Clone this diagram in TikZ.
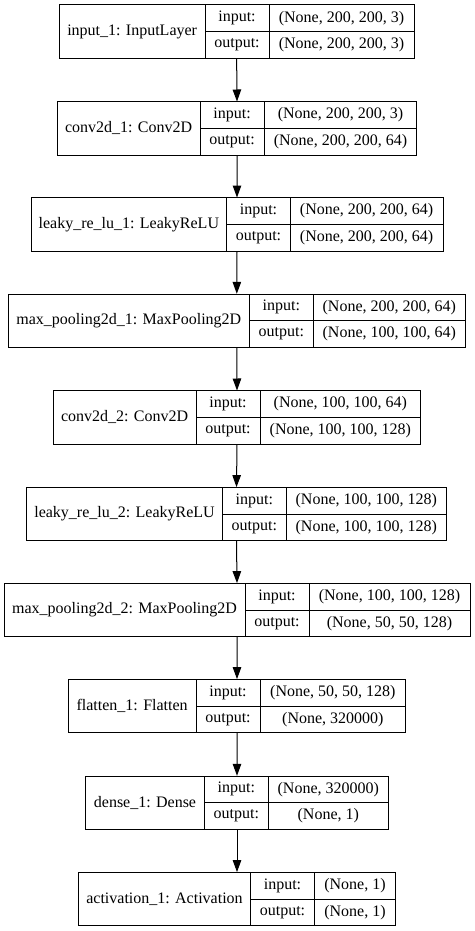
\documentclass[tikz,border=0pt]{standalone}
\usepackage{fontspec}
\setmainfont{Liberation Serif}
\usetikzlibrary{arrows.meta,fit}

% one Keras layer record: name | input:/output: | shapes
\newcommand{\layerrec}[9]{%
  \node[namecell, minimum width={(#4-#3)*1pt}] (#1-name) at (#3,#2) {#7};
  \node[cell, minimum width={(#5-#4)*1pt}] (#1-il) at (#4,#2) {input:};
  \node[cell, minimum width={(#6-#5)*1pt}] (#1-iv) at (#5,#2) {#8};
  \node[cell, minimum width={(#5-#4)*1pt}] (#1-ol) at (#1-il.south west) {output:};
  \node[cell, minimum width={(#6-#5)*1pt}] (#1-ov) at (#1-iv.south west) {#9};
  \node[fit=(#1-name)(#1-ov), inner sep=0pt] (#1) {};
}

\begin{document}
\begin{tikzpicture}[x=1pt, y=-1pt,
    cell/.style={draw, rectangle, anchor=north west, line width=1pt, inner sep=0pt, outer sep=0pt,
      minimum height=26.75pt, font=\fontsize{16}{19}\selectfont},
    namecell/.style={cell, minimum height=53.5pt},
    flow/.style={-{Triangle[length=12pt, width=8.5pt]}, line width=1pt}]
  \useasboundingbox (0,0) rectangle (474,931);

  % Layers
  \layerrec{input1}{5}{59.3}{205}{269}{414}{input\_1: InputLayer}{(None, 200, 200, 3)}{(None, 200, 200, 3)}
  \layerrec{conv1}{101.7}{57.3}{200}{264.3}{416.7}{conv2d\_1: Conv2D}{(None, 200, 200, 3)}{(None, 200, 200, 64)}
  \layerrec{leaky1}{197.7}{31}{226.7}{290.3}{443}{leaky\_re\_lu\_1: LeakyReLU}{(None, 200, 200, 64)}{(None, 200, 200, 64)}
  \layerrec{pool1}{294}{8.3}{249.3}{313.3}{465.3}{max\_pooling2d\_1: MaxPooling2D}{(None, 200, 200, 64)}{(None, 100, 100, 64)}
  \layerrec{conv2}{390.7}{53.3}{196}{260}{420.7}{conv2d\_2: Conv2D}{(None, 100, 100, 64)}{(None, 100, 100, 128)}
  \layerrec{leaky2}{487.3}{26.7}{222.3}{286.3}{446.3}{leaky\_re\_lu\_2: LeakyReLU}{(None, 100, 100, 128)}{(None, 100, 100, 128)}
  \layerrec{pool2}{583.3}{4}{245}{309}{470}{max\_pooling2d\_2: MaxPooling2D}{(None, 100, 100, 128)}{(None, 50, 50, 128)}
  \layerrec{flat1}{679.3}{68.3}{196}{260}{405.7}{flatten\_1: Flatten}{(None, 50, 50, 128)}{(None, 320000)}
  \layerrec{dense1}{776}{85.7}{204.3}{268.3}{388.3}{dense\_1: Dense}{(None, 320000)}{(None, 1)}
  \layerrec{act1}{872.3}{78.3}{250.7}{314.3}{395.7}{activation\_1: Activation}{(None, 1)}{(None, 1)}

  % Arrows
  \draw[flow] (input1.south) -- (conv1.north);
  \draw[flow] (conv1.south) -- (leaky1.north);
  \draw[flow] (leaky1.south) -- (pool1.north);
  \draw[flow] (pool1.south) -- (conv2.north);
  \draw[flow] (conv2.south) -- (leaky2.north);
  \draw[flow] (leaky2.south) -- (pool2.north);
  \draw[flow] (pool2.south) -- (flat1.north);
  \draw[flow] (flat1.south) -- (dense1.north);
  \draw[flow] (dense1.south) -- (act1.north);
\end{tikzpicture}
\end{document}
